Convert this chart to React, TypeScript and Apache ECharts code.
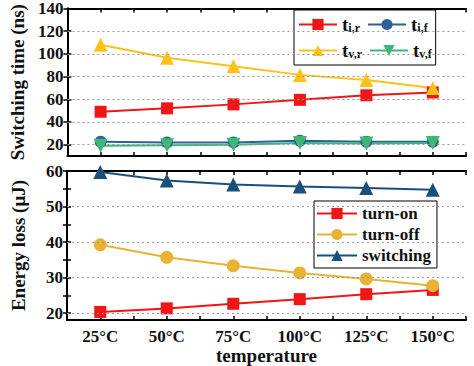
import React, { useEffect, useRef } from "react";
import * as echarts from "echarts";

const categories = ["25°C", "50°C", "75°C", "100°C", "125°C", "150°C"];

// Switching time (ns)
const tIr = [49, 52, 55.5, 59.5, 63.5, 66];
const tIf = [22.5, 22, 22, 23.5, 22.5, 22.5];
const tVr = [108, 96.5, 89, 81.5, 77, 70];
const tVf = [19, 19.5, 20, 21.5, 21, 21.5];

// Energy loss (μJ)
const turnOn = [20.3, 21.3, 22.6, 23.9, 25.3, 26.5];
const turnOff = [39.2, 35.7, 33.3, 31.3, 29.6, 27.7];
const switching = [59.7, 57.3, 56.2, 55.6, 55.2, 54.7];

const topLabels = [20, 40, 60, 80, 100, 120, 140];
const topGrid = [20, 40, 60, 80, 100, 120];
const bottomLabels = [20, 30, 40, 50, 60];
const bottomTicks = [20, 25, 30, 35, 40, 45, 50, 55, 60];
const bottomGrid = [20, 30, 40, 50];

const FONT = "Liberation Serif";
const RED = "#ee1616";
const YELLOW = "#ffc21a";
const BLUE = "#2f5f9b";
const GREEN = "#3cb774";
const ORANGE = "#e8b233";
const NAVY = "#1a4f7c";

const toXY = (vals: number[]) => vals.map((v, i) => [i + 0.5, v]);

export default function App() {
  const ref = useRef<HTMLDivElement>(null);
  useEffect(() => {
    if (!ref.current) return;
    const chart = echarts.init(ref.current, undefined, { renderer: "svg" });

    const axisLine = { show: true, lineStyle: { color: "#000", width: 2 } };
    const tickStyle = { color: "#000", width: 1.5 };
    const xBase = (gridIndex: number, position: string, showLabel: boolean) => ({
      type: "value",
      gridIndex,
      position,
      min: 0,
      max: 6,
      interval: 0.5,
      axisLine,
      axisTick: { show: true, inside: true, length: 4, lineStyle: tickStyle },
      splitLine: { show: false },
      axisLabel: {
        show: showLabel,
        margin: 8,
        fontFamily: FONT,
        fontWeight: "bold",
        fontSize: 17,
        color: "#111",
        formatter: (v: number) => {
          const i = v - 0.5;
          const r = Math.round(i);
          return Math.abs(i - r) < 1e-6 && categories[r] ? categories[r] : "";
        },
      },
    });

    const yAxisDef = (
      gridIndex: number,
      position: string,
      showLabel: boolean,
      min: number,
      max: number,
      ticks: number[],
      labels: number[],
      name: string
    ) => ({
      type: "value",
      gridIndex,
      position,
      min,
      max,
      axisLine,
      axisTick: { show: true, inside: true, length: 4, lineStyle: tickStyle, customValues: ticks },
      splitLine: { show: false },
      axisLabel: {
        show: showLabel,
        margin: 4,
        fontFamily: FONT,
        fontWeight: "bold",
        fontSize: 17,
        color: "#111",
        customValues: labels,
        formatter: (v: number) => (labels.includes(v) ? String(v) : ""),
      },
      name: showLabel ? name : "",
      nameLocation: "middle",
      nameGap: 39,
      nameTextStyle: { fontFamily: FONT, fontWeight: "bold", fontSize: 19, color: "#111" },
    });

    const line = (
      name: string,
      data: number[],
      color: string,
      symbol: string,
      size: number,
      xi: number,
      yi: number,
      rotate = 0
    ) => ({
      name,
      type: "line",
      xAxisIndex: xi,
      yAxisIndex: yi,
      data: toXY(data),
      symbol,
      symbolSize: size,
      symbolRotate: rotate,
      showAllSymbol: true,
      lineStyle: { color, width: 2 },
      itemStyle: { color },
      z: 3,
    });

    const gridLines = (xi: number, yi: number, values: number[]) => ({
      name: "grid" + yi,
      type: "line",
      xAxisIndex: xi,
      yAxisIndex: yi,
      data: [],
      z: 1,
      silent: true,
      markLine: {
        silent: true,
        symbol: "none",
        label: { show: false },
        lineStyle: { color: "#9a9a9a", type: [2, 3], width: 1 },
        data: values.map((v) => ({ yAxis: v })),
      },
    });

    const subs: Record<string, [string, string]> = {
      "t_i,r": ["t", "i,r"],
      "t_i,f": ["t", "i,f"],
      "t_v,r": ["t", "v,r"],
      "t_v,f": ["t", "v,f"],
    };

    chart.setOption({
      animation: false,
      backgroundColor: "#fff",
      grid: [
        { left: 67, right: 8, top: 6, height: 150 },
        { left: 67, right: 8, top: 171, height: 151 },
      ],
      xAxis: [
        xBase(0, "bottom", false),
        xBase(0, "top", false),
        {
          ...xBase(1, "bottom", true),
          name: "temperature",
          nameLocation: "middle",
          nameGap: 24,
          nameTextStyle: { fontFamily: FONT, fontWeight: "bold", fontSize: 19, color: "#111" },
        },
        xBase(1, "top", false),
      ],
      yAxis: [
        yAxisDef(0, "left", true, 10, 140, topLabels, topLabels, "Switching time (ns)"),
        yAxisDef(0, "right", false, 10, 140, topLabels, topLabels, ""),
        yAxisDef(1, "left", true, 18, 60, bottomTicks, bottomLabels, "Energy loss (μJ)"),
        yAxisDef(1, "right", false, 18, 60, bottomTicks, bottomLabels, ""),
      ],
      legend: [
        {
          data: ["t_i,r", "t_i,f", "t_v,r", "t_v,f"],
          left: 294,
          top: 10,
          width: 145,
          orient: "horizontal",
          padding: [5, 4, 5, 4],
          itemGap: 7,
          itemWidth: 38,
          itemHeight: 14,
          borderColor: "#000",
          borderWidth: 1,
          backgroundColor: "#fff",
          formatter: (n: string) => `{m|${subs[n][0]}}{s|${subs[n][1]}}`,
          textStyle: {
            fontFamily: FONT,
            fontWeight: "bold",
            color: "#111",
            rich: {
              m: { fontFamily: FONT, fontWeight: "bold", fontSize: 19, color: "#111" },
              s: { fontFamily: FONT, fontWeight: "bold", fontSize: 12, color: "#111", verticalAlign: "bottom" },
            },
          },
        },
        {
          data: ["turn-on", "turn-off", "switching"],
          left: 314,
          top: 201,
          orient: "vertical",
          padding: [4, 6, 4, 2],
          itemGap: 4,
          itemWidth: 40,
          itemHeight: 14,
          borderColor: "#000",
          borderWidth: 1,
          backgroundColor: "#fff",
          textStyle: { fontFamily: FONT, fontWeight: "bold", fontSize: 17, color: "#111" },
        },
      ],
      series: [
        gridLines(0, 0, topGrid),
        gridLines(2, 2, bottomGrid),
        line("t_i,r", tIr, RED, "rect", 12, 0, 0),
        line("t_i,f", tIf, BLUE, "circle", 12, 0, 0),
        line("t_v,r", tVr, YELLOW, "triangle", 14, 0, 0),
        line("t_v,f", tVf, GREEN, "triangle", 14, 0, 0, 180),
        line("turn-on", turnOn, RED, "rect", 12, 2, 2),
        line("turn-off", turnOff, ORANGE, "circle", 13, 2, 2),
        line("switching", switching, NAVY, "triangle", 14, 2, 2),
      ],
    });
    return () => chart.dispose();
  }, []);
  return (
    <div
      ref={ref}
      style={{ position: "absolute", left: 0, top: 0, width: 474, height: 366 }}
    />
  );
}
